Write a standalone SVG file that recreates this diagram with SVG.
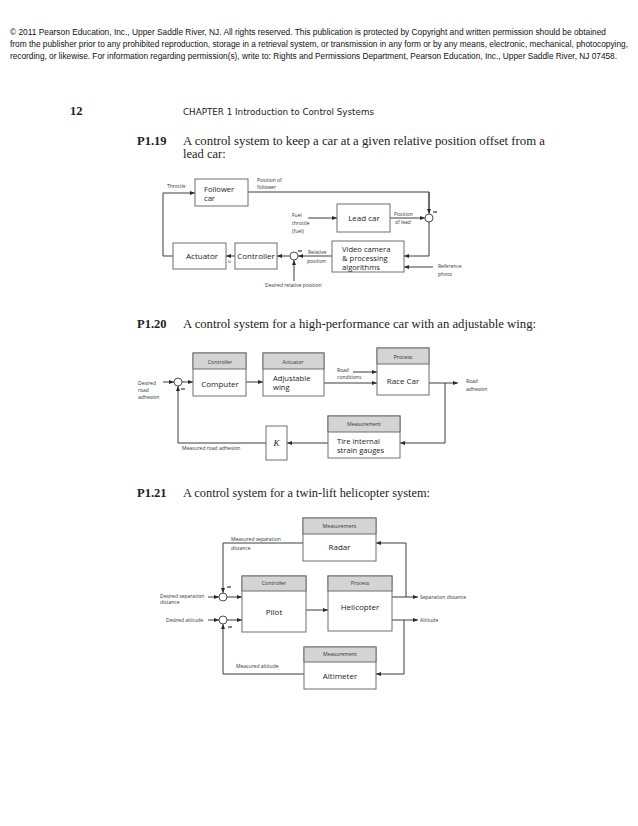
<svg xmlns="http://www.w3.org/2000/svg" width="638" height="826" viewBox="0 0 638 826">
<style>
.cp{font-family:"Liberation Sans",Arial,sans-serif;font-size:8.4px;fill:#111}
.pn{font-family:"Liberation Serif","Times New Roman",serif;font-size:12.5px;font-weight:bold;fill:#222}
.pt{font-family:"Liberation Serif","Times New Roman",serif;font-size:12.5px;fill:#222}
.ch{font-family:"DejaVu Sans","Liberation Sans",sans-serif;font-size:8.5px;fill:#222}
.bx{fill:#fff;stroke:#6e6e6e;stroke-width:1}
.hd{fill:#d4d4d4;stroke:#6e6e6e;stroke-width:1}
.bl{font-family:"Open Sans","Noto Sans",sans-serif;font-size:8px;fill:#222}
.b2{font-family:"Open Sans","Noto Sans",sans-serif;font-size:7.6px;fill:#222}
.sl{font-family:"Open Sans","Noto Sans",sans-serif;font-size:5px;fill:#333}
.hl{font-family:"Open Sans","Noto Sans",sans-serif;font-size:5.2px;fill:#333;text-anchor:middle}
.c{text-anchor:middle}
.ln{fill:none;stroke:#3c3c3c;stroke-width:1}
.ar{fill:none;stroke:#3c3c3c;stroke-width:1;marker-end:url(#ah)}
.sj{fill:#fff;stroke:#3c3c3c;stroke-width:0.9}
.mn{stroke:#222;stroke-width:1.1}
</style>
<defs>
<marker id="ah" markerUnits="userSpaceOnUse" markerWidth="5" markerHeight="4" refX="5" refY="2" orient="auto">
<path d="M0,0 L5,2 L0,4 z" fill="#2a2a2a"/>
</marker>
</defs>
<rect width="638" height="826" fill="#fff"/>

<g id="copyright">
<text class="cp" x="10" y="35" textLength="596" lengthAdjust="spacingAndGlyphs">© 2011 Pearson Education, Inc., Upper Saddle River, NJ. All rights reserved. This publication is protected by Copyright and written permission should be obtained</text>
<text class="cp" x="10" y="47" textLength="618" lengthAdjust="spacingAndGlyphs">from the publisher prior to any prohibited reproduction, storage in a retrieval system, or transmission in any form or by any means, electronic, mechanical, photocopying,</text>
<text class="cp" x="10" y="59" textLength="607" lengthAdjust="spacingAndGlyphs">recording, or likewise. For information regarding permission(s), write to: Rights and Permissions Department, Pearson Education, Inc., Upper Saddle River, NJ 07458.</text>
</g>

<g id="header">
<text class="pn" x="70" y="115">12</text>
<text class="ch" x="183" y="115" textLength="191" lengthAdjust="spacingAndGlyphs">CHAPTER 1   Introduction to Control Systems</text>
<text class="pn" x="137" y="145">P1.19</text>
<text class="pt" x="183" y="145" textLength="362" lengthAdjust="spacingAndGlyphs">A control system to keep a car at a given relative position offset from a</text>
<text class="pt" x="183" y="158">lead car:</text>
<text class="pn" x="137" y="328">P1.20</text>
<text class="pt" x="183" y="328" textLength="353" lengthAdjust="spacingAndGlyphs">A control system for a high-performance car with an adjustable wing:</text>
<text class="pn" x="137" y="497">P1.21</text>
<text class="pt" x="183" y="497" textLength="247" lengthAdjust="spacingAndGlyphs">A control system for a twin-lift helicopter system:</text>
</g>

<!-- ===== P1.19 ===== -->
<g id="p119-connectors">
<path class="ar" d="M173,256 H163 V193 H195"/>
<path class="ln" d="M248,192 H429 V209"/>
<path class="ar" d="M429,192 V214"/>
<path class="ar" d="M390,218 H425"/>
<path class="ar" d="M429,222 V256 H404"/>
<path class="ar" d="M433,267 H404"/>
<path class="ar" d="M308,218 H337"/>
<path class="ar" d="M332,256 H298"/>
<path class="ar" d="M290,256 H277"/>
<path class="ar" d="M235,256 H226"/>
<path class="ar" d="M294,281 V260"/>
</g>
<g id="p119-follower"><rect class="bx" x="195" y="179" width="53" height="27"/><text class="b2" x="204" y="191.5">Follower</text><text class="b2" x="204" y="200.5">car</text></g>
<g id="p119-leadcar"><rect class="bx" x="337" y="204" width="53" height="28"/><text class="bl c" x="364" y="221">Lead car</text></g>
<g id="p119-actuator"><rect class="bx" x="173" y="243" width="53" height="26"/><text class="bl c" x="202" y="259">Actuator</text></g>
<g id="p119-controller"><rect class="bx" x="235" y="243" width="42" height="26"/><text class="bl c" x="256" y="259">Controller</text></g>
<g id="p119-video"><rect class="bx" x="332" y="241" width="72" height="31"/><text class="b2" x="342" y="251.5">Video camera</text><text class="b2" x="342" y="260.5">&amp; processing</text><text class="b2" x="342" y="269.5">algorithms</text></g>
<g id="p119-sum1"><circle class="sj" cx="294" cy="256" r="4"/><line class="mn" x1="298" y1="251" x2="302" y2="251"/></g>
<g id="p119-sum2"><circle class="sj" cx="429" cy="218" r="4"/><line class="mn" x1="433" y1="212" x2="437" y2="212"/></g>
<g id="p119-labels">
<text class="sl" x="167" y="188">Throttle</text>
<text class="sl" x="257" y="182">Position of</text>
<text class="sl" x="257" y="189">follower</text>
<text class="sl" x="292" y="217">Fuel</text>
<text class="sl" x="292" y="225">throttle</text>
<text class="sl" x="292" y="233">(fuel)</text>
<text class="sl" x="394" y="216">Position</text>
<text class="sl" x="395" y="224">of lead</text>
<text class="sl" x="308" y="254">Relative</text>
<text class="sl" x="307" y="263">position</text>
<text class="sl" x="438" y="268">Reference</text>
<text class="sl" x="438" y="276">photo</text>
<text class="sl" x="265" y="287">Desired relative position</text>
<text class="sl" x="228" y="263" style="font-size:4.5px">u</text>
</g>

<!-- ===== P1.20 ===== -->
<g id="p120-connectors">
<path class="ar" d="M163,382 H174"/>
<path class="ar" d="M182,382 H193"/>
<path class="ar" d="M246,382 H263"/>
<path class="ar" d="M324,383 H377"/>
<path class="ar" d="M353,372 H377"/>
<path class="ar" d="M429,383 H458"/>
<path class="ar" d="M445,383 V443 H400"/>
<path class="ar" d="M328,443 H287"/>
<path class="ar" d="M266,443 H178 V386"/>
</g>
<g id="p120-sum"><circle class="sj" cx="178" cy="382" r="4"/><line class="mn" x1="181" y1="389" x2="185" y2="389"/></g>
<g id="p120-computer"><rect class="bx" x="193" y="353" width="53" height="43"/><rect class="hd" x="193" y="353" width="53" height="16"/><text class="hl" x="220" y="364">Controller</text><text class="bl c" x="220" y="387">Computer</text></g>
<g id="p120-wing"><rect class="bx" x="263" y="353" width="61" height="43"/><rect class="hd" x="263" y="353" width="61" height="16"/><text class="hl" x="293" y="364">Actuator</text><text class="b2" x="273" y="380.5">Adjustable</text><text class="b2" x="273" y="389.5">wing</text></g>
<g id="p120-racecar"><rect class="bx" x="377" y="348" width="52" height="47"/><rect class="hd" x="377" y="348" width="52" height="16"/><text class="hl" x="403" y="359">Process</text><text class="bl c" x="403" y="384">Race Car</text></g>
<g id="p120-tire"><rect class="bx" x="328" y="416" width="72" height="42"/><rect class="hd" x="328" y="416" width="72" height="16"/><text class="hl" x="364" y="426">Measurement</text><text class="b2" x="337" y="444">Tire internal</text><text class="b2" x="337" y="453">strain gauges</text></g>
<g id="p120-k"><rect class="bx" x="266" y="426" width="21" height="34"/><text x="276.5" y="446" text-anchor="middle" style="font-family:'Liberation Serif',serif;font-style:italic;font-size:9px;fill:#222">K</text></g>
<g id="p120-labels">
<text class="sl" x="138" y="385">Desired</text>
<text class="sl" x="138" y="392">road</text>
<text class="sl" x="138" y="399">adhesion</text>
<text class="sl" x="337" y="371.5">Road</text>
<text class="sl" x="337" y="378.5">conditions</text>
<text class="sl" x="466" y="383">Road</text>
<text class="sl" x="466" y="391">adhesion</text>
<text class="sl" x="182" y="450">Measured road adhesion</text>
</g>

<!-- ===== P1.21 ===== -->
<g id="p121-connectors">
<path class="ar" d="M208,597 H219"/>
<path class="ar" d="M227,597 H242"/>
<path class="ar" d="M208,620 H219"/>
<path class="ar" d="M227,620 H242"/>
<path class="ar" d="M306,610 H328"/>
<path class="ar" d="M392,597 H418"/>
<path class="ar" d="M392,620 H418"/>
<path class="ar" d="M406,597 V543 H376"/>
<path class="ar" d="M404,620 V674 H376"/>
<path class="ar" d="M303,543 H223 V593"/>
<path class="ar" d="M304,674 H223 V624"/>
</g>
<g id="p121-sum1"><circle class="sj" cx="223" cy="597" r="4"/><line class="mn" x1="227" y1="587" x2="231" y2="587"/></g>
<g id="p121-sum2"><circle class="sj" cx="223" cy="620" r="4"/><line class="mn" x1="228" y1="627" x2="232" y2="627"/></g>
<g id="p121-radar"><rect class="bx" x="303" y="518" width="73" height="43"/><rect class="hd" x="303" y="518" width="73" height="16"/><text class="hl" x="339.5" y="528">Measurement</text><text class="bl c" x="339.5" y="550">Radar</text></g>
<g id="p121-pilot"><rect class="bx" x="242" y="576" width="64" height="56"/><rect class="hd" x="242" y="576" width="64" height="15"/><text class="hl" x="274" y="585">Controller</text><text class="bl c" x="274" y="615">Pilot</text></g>
<g id="p121-helicopter"><rect class="bx" x="328" y="576" width="64" height="55"/><rect class="hd" x="328" y="576" width="64" height="15"/><text class="hl" x="360" y="585">Process</text><text class="bl c" x="360" y="610">Helicopter</text></g>
<g id="p121-altimeter"><rect class="bx" x="304" y="647" width="72" height="42"/><rect class="hd" x="304" y="647" width="72" height="15"/><text class="hl" x="340" y="656">Measurement</text><text class="bl c" x="340" y="679">Altimeter</text></g>
<g id="p121-labels">
<text class="sl" x="231" y="541">Measured separation</text>
<text class="sl" x="231" y="549.5">distance</text>
<text class="sl" x="160" y="597.5">Desired separation</text>
<text class="sl" x="160" y="604">distance</text>
<text class="sl" x="166" y="622">Desired altitude</text>
<text class="sl" x="420" y="599">Separation distance</text>
<text class="sl" x="420" y="622">Altitude</text>
<text class="sl" x="236" y="668">Measured altitude</text>
</g>
</svg>
